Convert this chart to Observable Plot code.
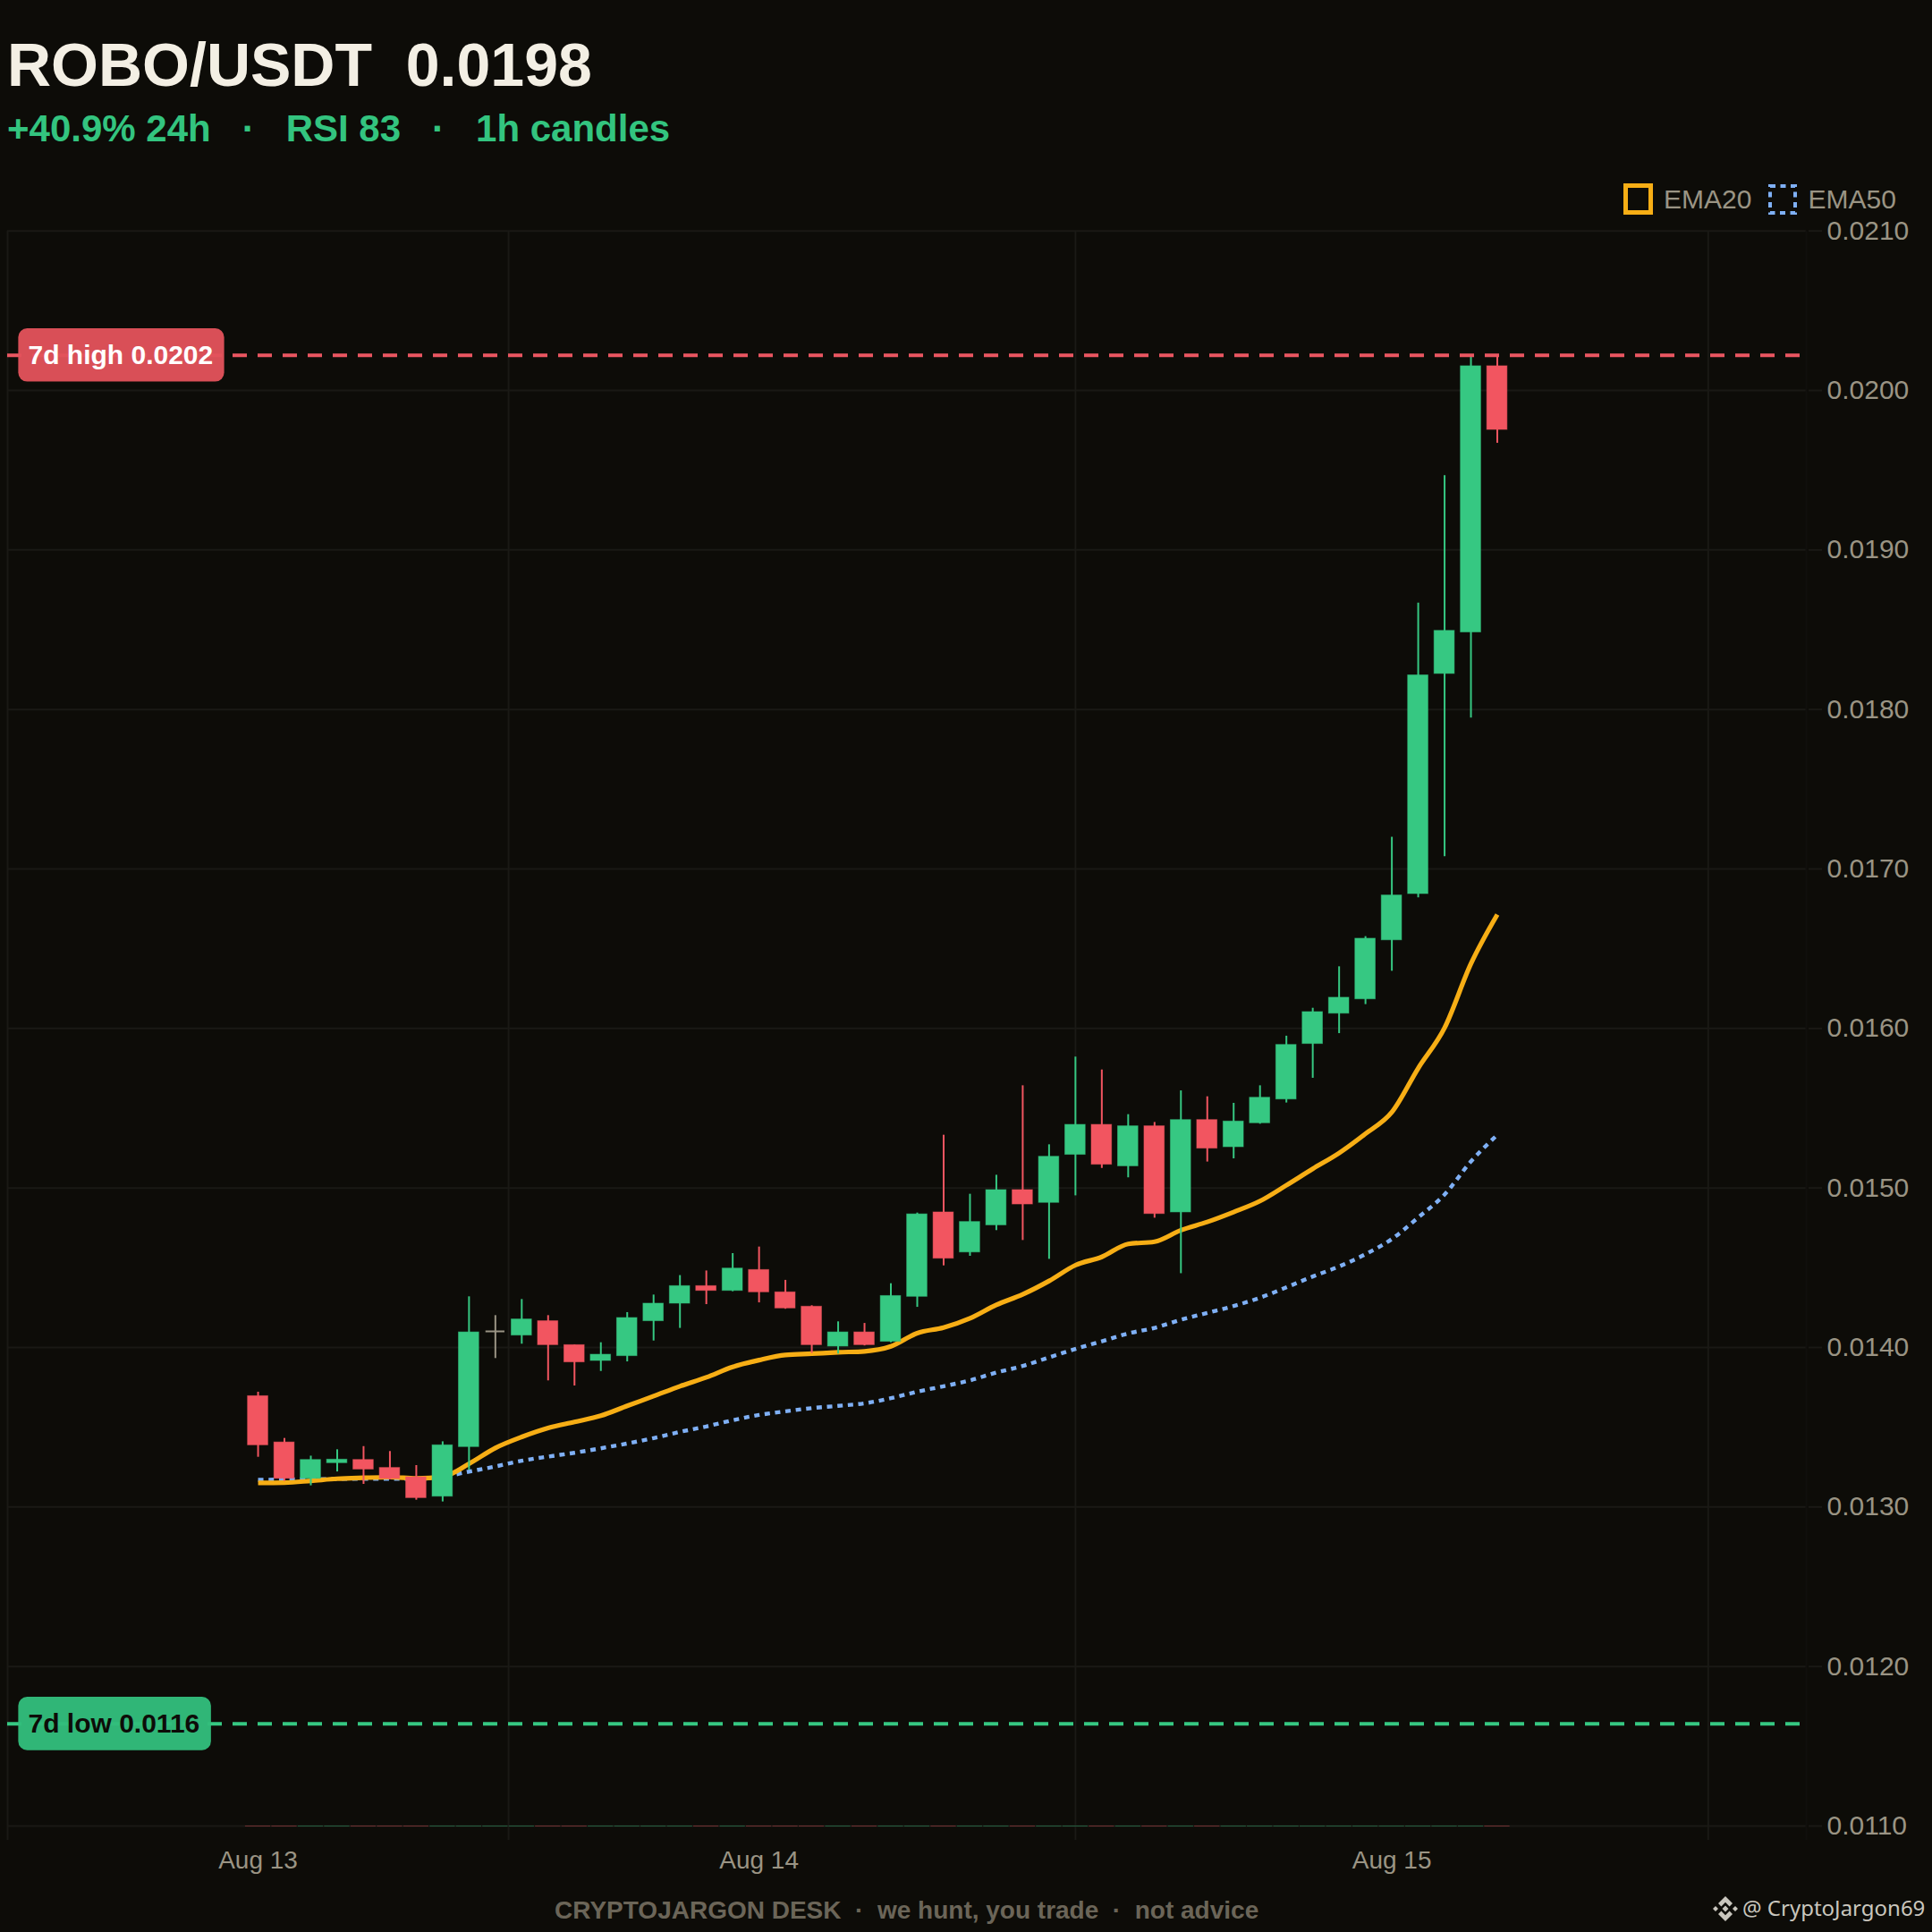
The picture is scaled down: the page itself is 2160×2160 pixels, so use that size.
<!DOCTYPE html>
<html>
<head>
<meta charset="utf-8">
<script src="https://cdn.jsdelivr.net/npm/d3@7"></script>
<script src="https://cdn.jsdelivr.net/npm/@observablehq/plot@0.6"></script>
<style>
html,body{margin:0;padding:0;background:#0d0c08;}
#page{position:relative;width:2160px;height:2160px;overflow:hidden;background:#0d0c08;font-family:"Liberation Sans",sans-serif;}
#header{position:relative;height:230px;}
#chart svg{display:block;}
.abs{position:absolute;white-space:pre;line-height:1;}
</style>
</head>
<body>
<div id="page">
  <div id="header">
    <div class="abs" style="left:8px;top:38px;font-size:68px;font-weight:700;color:#f3efe4">ROBO/USDT  0.0198</div>
    <div class="abs" style="left:8px;top:122.9px;font-size:42px;font-weight:700;color:#33c47f">+40.9% 24h   ·   RSI 83   ·   1h candles</div>
    <svg class="abs" style="left:1810px;top:200px" width="46" height="46"><rect x="7.5" y="7.5" width="28" height="30" fill="none" stroke="#f7ae15" stroke-width="5"/></svg>
    <div class="abs" style="left:1860px;top:208px;font-size:30px;color:#9a9484">EMA20</div>
    <svg class="abs" style="left:1972px;top:200px" width="46" height="46"><rect x="7" y="8" width="28" height="30" fill="none" stroke="#7fb0f5" stroke-width="4" stroke-dasharray="6 5.5"/></svg>
    <div class="abs" style="left:2021.5px;top:208px;font-size:30px;color:#9a9484">EMA50</div>
  </div>
  <div id="chart"></div>
  <div class="abs" style="left:620px;top:2122px;font-size:28px;font-weight:700;color:#6b6558">CRYPTOJARGON DESK  ·  we hunt, you trade  ·  not advice</div>
  <svg class="abs" style="left:1915px;top:2120px" width="28" height="28" viewBox="0 0 28 28"><g fill="#c9c6bd">
    <polygon points="14,0 22,8 18.6,11.4 14,6.8 9.4,11.4 6,8"/>
    <polygon points="14,28 22,20 18.6,16.6 14,21.2 9.4,16.6 6,20"/>
    <polygon points="0,14 3,11 6,14 3,17"/>
    <polygon points="28,14 25,11 22,14 25,17"/>
    <polygon points="14,10.5 17.5,14 14,17.5 10.5,14"/>
  </g></svg>
  <div class="abs" style="left:1948px;top:2121px;font-size:24px;font-family:'Noto Sans',sans-serif;color:#c9c6bd">@ CryptoJargon69</div>
</div>
<script>
const opens = [0.013695,0.013405,0.013177,0.013275,0.013295,0.013245,0.013187,0.013065,0.013376,0.014101,0.014075,0.014165,0.014015,0.013916,0.013946,0.014165,0.014275,0.014385,0.014355,0.014486,0.014346,0.014256,0.014006,0.014095,0.014036,0.014318,0.014847,0.014596,0.014766,0.014987,0.014907,0.015208,0.015396,0.015136,0.015387,0.014847,0.015426,0.015256,0.015406,0.015555,0.015903,0.016093,0.016183,0.016553,0.016843,0.018223,0.018483,0.020152];
const closes = [0.013387,0.013177,0.013295,0.013297,0.013235,0.013176,0.013056,0.013387,0.014095,0.014101,0.014176,0.014015,0.013907,0.013955,0.014185,0.014275,0.014385,0.014355,0.014495,0.014346,0.014245,0.014015,0.014095,0.014015,0.014323,0.014835,0.014557,0.014787,0.014987,0.014897,0.015196,0.015396,0.015146,0.015387,0.014837,0.015426,0.015247,0.015417,0.015566,0.015897,0.016103,0.016193,0.016563,0.016834,0.018214,0.018493,0.020152,0.019753];
const highs = [0.013720,0.013430,0.013319,0.013359,0.013379,0.013348,0.013260,0.013409,0.014318,0.014200,0.014301,0.014200,0.014015,0.014030,0.014219,0.014329,0.014451,0.014480,0.014589,0.014630,0.014421,0.014262,0.014161,0.014151,0.014400,0.014843,0.015331,0.014961,0.015080,0.015641,0.015271,0.015821,0.015740,0.015460,0.015411,0.015609,0.015572,0.015531,0.015641,0.015952,0.016127,0.016387,0.016576,0.017199,0.018667,0.019466,0.020220,0.020220];
const lows = [0.013312,0.013161,0.013133,0.013220,0.013142,0.013170,0.013043,0.013032,0.013230,0.013931,0.014021,0.013791,0.013759,0.013850,0.013910,0.014041,0.014120,0.014269,0.014350,0.014280,0.014240,0.013963,0.013959,0.014010,0.014030,0.014252,0.014512,0.014572,0.014733,0.014671,0.014553,0.014951,0.015123,0.015064,0.014811,0.014463,0.015163,0.015183,0.015400,0.015533,0.015688,0.015968,0.016150,0.016359,0.016819,0.017077,0.017946,0.019669];
const ema20 = [0.013151,0.013153,0.013164,0.013177,0.013183,0.013187,0.013179,0.013189,0.013271,0.013370,0.013439,0.013495,0.013533,0.013572,0.013634,0.013695,0.013757,0.013813,0.013878,0.013921,0.013953,0.013961,0.013970,0.013976,0.014007,0.014090,0.014125,0.014183,0.014267,0.014333,0.014417,0.014516,0.014568,0.014649,0.014663,0.014735,0.014787,0.014849,0.014918,0.015017,0.015120,0.015219,0.015340,0.015475,0.015751,0.016004,0.016406,0.016714];
const ema50 = [0.013170,0.013172,0.013174,0.013176,0.013177,0.013177,0.013177,0.013189,0.013222,0.013254,0.013290,0.013316,0.013340,0.013368,0.013398,0.013432,0.013471,0.013505,0.013544,0.013577,0.013600,0.013620,0.013634,0.013650,0.013682,0.013723,0.013757,0.013794,0.013843,0.013884,0.013938,0.013991,0.014039,0.014088,0.014123,0.014174,0.014217,0.014260,0.014312,0.014377,0.014445,0.014508,0.014585,0.014680,0.014815,0.014959,0.015166,0.015333];
const yTicks = [0.011,0.012,0.013,0.014,0.015,0.016,0.017,0.018,0.019,0.02,0.021];
const dayTickIndex = [0,19,43];
const dayTickLabels = ["Aug 13","Aug 14","Aug 15"];
const gridIndex = [9.5,31,55];
const highLevel = 0.02022;
const lowLevel = 0.01164;
const highLabel = "7d high 0.0202";
const lowLabel = "7d low 0.0116";

const candles = opens.map((o,i)=>({i,open:o,close:closes[i],high:highs[i],low:lows[i],
  dir:o===closes[i]?"flat":(closes[i]>o?"up":"down"),
  vol:closes[i]>=o?"up":"down"}));
const bodies = candles.filter(d=>d.dir!=="flat");
const dojis = candles.filter(d=>d.dir==="flat");
const emaRows = ema20.map((v,i)=>({i,ema20:v,ema50:ema50[i]}));

const grid = "#1a1915", tickColor = "#9a9484";
const font = "'Liberation Sans',sans-serif";
const xLeft=-9.5, xRight=58.72, xRuleEnd=58.5, yFoot=0.01091;

const plot = Plot.plot({
  width:2160, height:1880,
  marginTop:27.7, marginBottom:69, marginLeft:8, marginRight:141,
  style:{background:"transparent",fontFamily:font},
  x:{type:"linear",domain:[xLeft,xRight]},
  y:{type:"linear",domain:[0.011,0.021]},
  color:{type:"ordinal",domain:["up","down","flat"],range:["#36c882","#f25560","#9a9484"]},
  marks:[
    Plot.ruleY(yTicks,{stroke:grid,strokeWidth:2}),
    Plot.ruleX([xLeft,...gridIndex],{y1:0.021,y2:yFoot,stroke:grid,strokeWidth:2}),
    Plot.ruleX([xRight],{y1:0.021,y2:yFoot,stroke:"#100f0c",strokeWidth:2}),
    Plot.axisY(yTicks,{anchor:"right",tickSize:15,tickPadding:6,dx:2,stroke:grid,strokeWidth:2,fill:tickColor,fontSize:30,tickFormat:d3.format(".4f"),label:null}),
    Plot.axisX(dayTickIndex,{anchor:"bottom",tickSize:0,tickPadding:28,fill:tickColor,fontSize:28,tickFormat:(d,i)=>dayTickLabels[i],label:null}),
    Plot.ruleY(candles,{y:()=>0.011,x1:d=>d.i-0.48,x2:d=>d.i+0.48,stroke:"vol",strokeOpacity:0.4,strokeWidth:1}),
    Plot.line(emaRows,{x:"i",y:"ema50",stroke:"#7fb0f5",strokeWidth:4.4,strokeDasharray:"6 5.7",strokeLinecap:"butt",curve:"monotone-x"}),
    Plot.line(emaRows,{x:"i",y:"ema20",stroke:"#f7ae15",strokeWidth:5.2,strokeLinecap:"butt",curve:"monotone-x"}),
    Plot.ruleX(candles,{x:"i",y1:"low",y2:"high",stroke:"dir",strokeWidth:2}),
    Plot.rect(bodies,{x1:d=>d.i-0.385,x2:d=>d.i+0.385,y1:"open",y2:"close",fill:"dir",stroke:"dir",strokeOpacity:0.5,strokeWidth:1}),
    Plot.ruleY(dojis,{y:"open",x1:d=>d.i-0.36,x2:d=>d.i+0.36,stroke:"dir",strokeWidth:2}),
    Plot.ruleY([highLevel],{x1:xLeft,x2:xRuleEnd,stroke:"#ea5661",strokeWidth:4,strokeDasharray:"16 12"}),
    Plot.ruleY([lowLevel],{x1:xLeft,x2:xRuleEnd,stroke:"#36c882",strokeWidth:4,strokeDasharray:"16 12"}),
    Plot.rect([highLevel],{x1:-9.08,x2:-1.27,y1:d=>d+0.000167,y2:d=>d-0.000167,fill:"#e2525b",fillOpacity:0.96,rx:10}),
    Plot.rect([lowLevel],{x1:-9.08,x2:-1.77,y1:d=>d+0.000167,y2:d=>d-0.000167,fill:"#32bd7c",fillOpacity:0.96,rx:10}),
    Plot.text([highLevel],{x:-8.72,y:d=>d,text:()=>highLabel,textAnchor:"start",fill:"#ffffff",fontWeight:700,fontSize:30}),
    Plot.text([lowLevel],{x:-8.72,y:d=>d,text:()=>lowLabel,textAnchor:"start",fill:"#0d0c08",fontWeight:700,fontSize:30})
  ]
});
document.getElementById("chart").appendChild(plot);
</script>
</body>
</html>
